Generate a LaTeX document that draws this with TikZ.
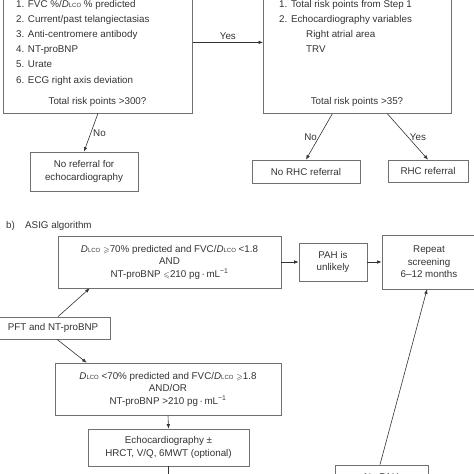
\documentclass[tikz,border=0pt]{standalone}
\usepackage{amssymb}
\usepackage{fontspec}
\setmainfont{Liberation Sans}
\usetikzlibrary{positioning, arrows.meta}
\definecolor{linegray}{HTML}{707070}
\definecolor{txtgray}{HTML}{333333}
\newcommand{\dlco}{\textit{D}{\fontsize{6}{7}\selectfont LCO}}
\newcommand{\gsl}{{\fontsize{7.5}{8}\selectfont$\geqslant$}}
\newcommand{\lsl}{{\fontsize{7.5}{8}\selectfont$\leqslant$}}

\begin{document}
\begin{tikzpicture}[x=1pt, y=-1pt,
  every node/.style={align=center, font=\fontsize{9.8}{12.5}\selectfont, text=txtgray},
  box/.style={rectangle, draw=linegray, line width=0.7pt, inner sep=0pt},
  item/.style={anchor=base west, inner sep=0pt},
  total/.style={anchor=base, inner sep=0pt},
  arr/.style={draw=txtgray, line width=0.6pt, -{Latex[length=4.5pt, width=3.6pt]}},
  tag/.style={inner sep=2pt}
]
\useasboundingbox (0,0) rectangle (474,474);
\clip (0,0) rectangle (474,474);

% Step 1
\node[box, minimum width=189pt, minimum height=125pt, anchor=north west] (stepone) at (3,-12) {};
\node[item] (s1a) at (16,7.5) {1. FVC \%/\dlco{} \% predicted};
\node[item] (s1b) at (16,22.5) {2. Current/past telangiectasias};
\node[item] (s1c) at (16,37) {3. Anti-centromere antibody};
\node[item] (s1d) at (16,52.5) {4. NT-proBNP};
\node[item] (s1e) at (16,67.5) {5. Urate};
\node[item] (s1f) at (16,83) {6. ECG right axis deviation};
\node[total] (s1tot) at (97.5,104.5) {Total risk points >300?};

% Step 2
\node[box, minimum width=188pt, minimum height=125pt, anchor=north west] (steptwo) at (263,-12) {};
\node[item] (s2a) at (279,7.5) {1. Total risk points from Step 1};
\node[item] (s2b) at (279,22.5) {2. Echocardiography variables};
\node[item] (s2c) at (306,37) {Right atrial area};
\node[item] (s2d) at (306,52.5) {TRV};
\node[total] (s2tot) at (357,104.5) {Total risk points >35?};

% Outcomes
\node[box, minimum width=108pt, minimum height=39pt] (noecho) at (84,171.5) {No referral for\\echocardiography};
\node[box, minimum width=108pt, minimum height=23pt] (norhc) at (306,171.5) {No RHC referral};
\node[box, minimum width=80pt, minimum height=22pt] (rhc) at (428,171) {RHC referral};

\draw[arr] ([yshift=8.5pt]stepone.east) -- node[tag, above] {Yes} ([yshift=8.5pt]steptwo.west);
\draw[arr] (stepone.south) -- node[tag, right] {No} (noecho.north);
\draw[arr] ([xshift=-25pt]steptwo.south) -- node[tag, left] {No} (norhc.north);
\draw[arr] ([xshift=30pt]steptwo.south) -- node[tag, right] {Yes} (rhc.north);

% b) ASIG algorithm
\node[anchor=base west, inner sep=0pt] (asig) at (6,228) {\makebox[19pt][l]{b)}ASIG algorithm};

\node[box, minimum width=223pt, minimum height=52pt] (dhigh) at (169.5,262) {\dlco{} \gsl70\% predicted and FVC/\dlco{} <1.8\\AND\\NT-proBNP \lsl210 pg\,·\,mL\textsuperscript{−1}};
\node[box, minimum width=68pt, minimum height=38pt] (pah) at (333,262) {PAH is\\unlikely};
\node[box, minimum width=94pt, minimum height=54pt] (repeat) at (429,262) {Repeat\\screening\\6–12 months};
\node[box, minimum width=114pt, minimum height=22pt] (pft) at (53,328) {PFT and NT-proBNP};
\node[box, minimum width=226pt, minimum height=52pt] (dlow) at (168,389) {\dlco{} <70\% predicted and FVC/\dlco{} \gsl1.8\\AND/OR\\NT-proBNP >210 pg\,·\,mL\textsuperscript{−1}};
\node[box, minimum width=161pt, minimum height=37pt] (echo) at (168.5,447.5) {Echocardiography ±\\HRCT, V/Q, 6MWT (optional)};
\node[box, minimum width=93pt, minimum height=24pt] (nopah) at (381.5,477) {No PAH};
\coordinate (echonext) at (168.5,490);

\draw[arr] (dhigh.east) -- (pah.west);
\draw[arr] (pah.east) -- (repeat.west);
\draw[arr] ([xshift=5pt]pft.north) -- ([xshift=32pt]dhigh.south west);
\draw[arr] ([xshift=4pt]pft.south) -- ([xshift=32pt]dlow.north west);
\draw[arr] (dlow.south) -- (echo.north);
\draw[draw=txtgray, line width=0.6pt] (echo.south) -- (echonext);
\draw[arr] ([xshift=-1.5pt]nopah.north) -- ([xshift=-2pt]repeat.south);

\end{tikzpicture}
\end{document}
